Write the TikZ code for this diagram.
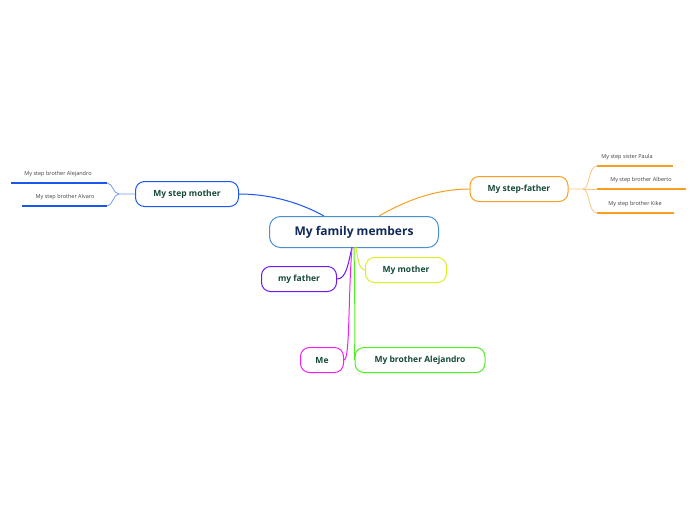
\documentclass[tikz,border=0pt]{standalone}
\usepackage{fontspec}
\setmainfont{Open Sans}
\definecolor{cblue}{HTML}{4A90D0}
\definecolor{smom}{HTML}{1A56F0}
\definecolor{sdad}{HTML}{F7A020}
\definecolor{dad}{HTML}{6A1AF0}
\definecolor{mom}{HTML}{D8F020}
\definecolor{me}{HTML}{F020F0}
\definecolor{bro}{HTML}{50F020}
\definecolor{txt}{HTML}{154A38}
\definecolor{ctxt}{HTML}{102A5A}
\begin{document}
\begin{tikzpicture}[x=1pt,y=-1pt,
 topic/.style={draw,line width=1pt,rounded corners=9pt,minimum height=25pt,font=\bfseries\fontsize{8.5}{10}\selectfont,text=txt,inner sep=0pt},
 leaf/.style={font=\fontsize{5.5}{7}\selectfont,text=black!75,inner sep=0pt},
 uline/.style={line width=1.3pt},
 br/.style={line width=1pt}]
\useasboundingbox (0,0) rectangle (696,520);
\node[draw=cblue,fill=white,line width=1pt,rounded corners=11pt,minimum width=169pt,minimum height=31pt,font=\bfseries\fontsize{12}{14}\selectfont,text=ctxt] (c) at (354,232) {My family members};
\node[topic,draw=smom,minimum width=103pt] (sm) at (187,194) {My step mother};
\node[topic,draw=sdad,minimum width=98pt] (sf) at (519,189) {My step-father};
\node[topic,draw=dad,minimum width=75pt] (fa) at (299,279) {my father};
\node[topic,draw=mom,minimum width=81pt] (mo) at (406,270) {My mother};
\node[topic,draw=me,minimum width=43pt] (me) at (322,360) {Me};
\node[topic,draw=bro,minimum width=130pt] (br) at (420,360) {My brother Alejandro};
% leaves
\node[leaf] (l1) at (58,174) {My step brother Alejandro};
\node[leaf] (l2) at (65,197) {My step brother Alvaro};
\node[leaf] (r1) at (627,157) {My step sister Paula};
\node[leaf] (r2) at (641,180) {My step brother Alberto};
\node[leaf] (r3) at (635,204) {My step brother Kike};
\coordinate (l1a) at (11,183); \coordinate (l1b) at (107,183);
\coordinate (l2a) at (22,206); \coordinate (l2b) at (107,206);
\coordinate (r1a) at (597,166); \coordinate (r1b) at (673,166);
\coordinate (r2a) at (597,189); \coordinate (r2b) at (686,189);
\coordinate (r3a) at (597,213); \coordinate (r3b) at (674,213);
\coordinate (lj) at (119,194); \coordinate (rj) at (583,189);
\draw[uline,smom] (l1a)--(l1b); \draw[uline,smom] (l2a)--(l2b);
\draw[uline,sdad] (r1a)--(r1b); \draw[uline,sdad] (r2a)--(r2b); \draw[uline,sdad] (r3a)--(r3b);
\draw[smom!60,line width=0.8pt] (sm.west)--(lj) .. controls (113,194) and (113,183) .. (l1b);
\draw[smom!60,line width=0.8pt] (lj) .. controls (113,194) and (113,206) .. (l2b);
\draw[sdad!60,line width=0.8pt] (sf.east)--(rj) .. controls (590,189) and (588,166) .. (r1a);
\draw[sdad!60,line width=0.8pt] (rj)--(r2a);
\draw[sdad!60,line width=0.8pt] (rj) .. controls (590,189) and (588,213) .. (r3a);
% main branches
\draw[br,smom] (c.north west)++(55,0) coordinate (cs) (cs) .. controls (295,200) and (265,194) .. (sm.east);
\draw[br,sdad] ([xshift=-60pt]c.north east) .. controls (410,198) and (440,189) .. (sf.west);
\coordinate (cb) at (352,247);
\draw[br,dad] (cb) .. controls (348,265) and (346,279) .. (fa.east);
\draw[br,mom] (356,247) .. controls (358,262) and (360,270) .. (mo.west);
\draw[br,me] (cb) .. controls (348,300) and (350,360) .. (me.east);
\draw[br,bro] (354,247) .. controls (355,300) and (355,340) .. (br.west);
\end{tikzpicture}
\end{document}
